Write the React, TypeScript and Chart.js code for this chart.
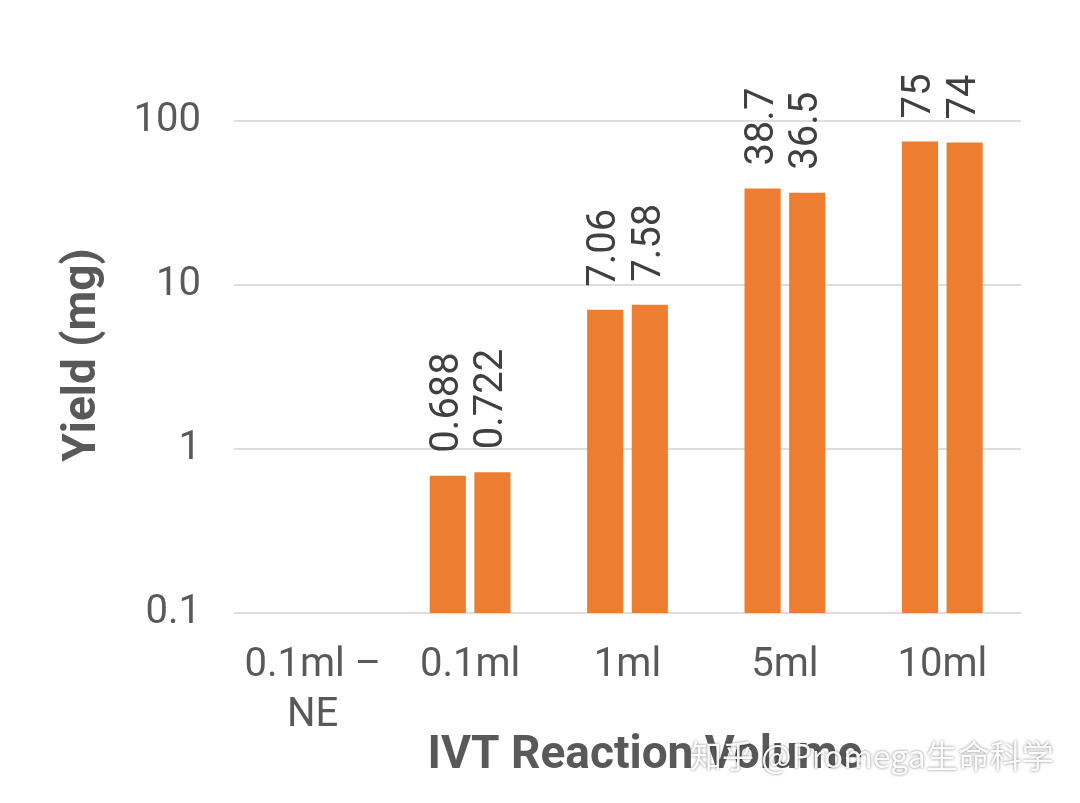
import React, { useEffect, useRef } from "react";
import { Chart, registerables } from "chart.js";

Chart.register(...registerables);

const categories: (string | string[])[] = [["0.1ml –", "NE"], "0.1ml", "1ml", "5ml", "10ml"];
const seriesA: (number | null)[] = [null, 0.688, 7.06, 38.7, 75];
const seriesB: (number | null)[] = [null, 0.722, 7.58, 36.5, 74];
const yTicks = [0.1, 1, 10, 100];
const yTitle = "Yield (mg)";
const xTitle = "IVT Reaction Volume";
const watermark = "知乎 @Promega生命科学";

const BAR_COLOR = "#ED7D31";
const TEXT_COLOR = "#595959";

const valueLabels = {
  id: "valueLabels",
  afterDatasetsDraw(chart: any) {
    const ctx = chart.ctx;
    chart.data.datasets.forEach((ds: any, di: number) => {
      const meta = chart.getDatasetMeta(di);
      meta.data.forEach((bar: any, i: number) => {
        const v = ds.data[i];
        if (v == null) return;
        ctx.save();
        ctx.translate(bar.x, bar.y - 23);
        ctx.rotate(-Math.PI / 2);
        ctx.font = "40px Roboto";
        ctx.fillStyle = "#404040";
        ctx.textAlign = "left";
        ctx.textBaseline = "middle";
        ctx.fillText(String(v), 0, 0);
        ctx.restore();
      });
    });
  },
};

const axisTitles = {
  id: "axisTitles",
  afterDraw(chart: any) {
    const ctx = chart.ctx;
    ctx.save();
    ctx.font = "bold 46px Roboto";
    ctx.fillStyle = TEXT_COLOR;
    ctx.textAlign = "center";
    ctx.textBaseline = "middle";
    ctx.fillText(xTitle, 645, 756);
    ctx.translate(83, 355);
    ctx.rotate(-Math.PI / 2);
    ctx.fillText(yTitle, 0, 0);
    ctx.restore();
  },
};

const watermarkPlugin = {
  id: "watermark",
  afterDraw(chart: any) {
    const ctx = chart.ctx;
    ctx.save();
    ctx.font = "32px 'Noto Sans CJK SC'";
    ctx.textAlign = "left";
    ctx.textBaseline = "middle";
    ctx.shadowColor = "rgba(0,0,0,0.55)";
    ctx.shadowBlur = 3;
    ctx.fillStyle = "rgba(255,255,255,0.95)";
    ctx.fillText(watermark, 690, 756);
    ctx.restore();
  },
};

export default function App() {
  const ref = useRef<HTMLCanvasElement | null>(null);

  useEffect(() => {
    if (!ref.current) return;
    const chart = new Chart(ref.current, {
      type: "bar",
      data: {
        labels: categories,
        datasets: [
          {
            data: seriesA,
            backgroundColor: BAR_COLOR,
            barPercentage: 0.81,
            categoryPercentage: 0.567,
          },
          {
            data: seriesB,
            backgroundColor: BAR_COLOR,
            barPercentage: 0.81,
            categoryPercentage: 0.567,
          },
        ],
      },
      options: {
        animation: false,
        responsive: true,
        maintainAspectRatio: false,
        layout: { padding: { left: 0, right: 59, top: 121, bottom: 0 } },
        plugins: {
          legend: { display: false },
          tooltip: { enabled: false },
        },
        scales: {
          x: {
            grid: { display: false, drawTicks: false },
            border: { display: false },
            ticks: {
              color: TEXT_COLOR,
              font: { family: "Roboto", size: 40, lineHeight: 1.25 },
              padding: 28,
              maxRotation: 0,
              autoSkip: false,
            },
            afterFit(scale: any) {
              scale.height = 190;
            },
          },
          y: {
            type: "logarithmic",
            min: 0.1,
            max: 100,
            grid: { color: "#DDDDDD", lineWidth: 2, drawTicks: false },
            border: { display: false },
            afterBuildTicks(scale: any) {
              scale.ticks = yTicks.map((v) => ({ value: v }));
            },
            ticks: {
              color: TEXT_COLOR,
              font: { family: "Roboto", size: 40 },
              padding: 33,
              callback: (v: any) => String(v),
            },
            afterFit(scale: any) {
              scale.width = 234;
            },
          },
        },
      },
      plugins: [valueLabels, axisTitles, watermarkPlugin],
    } as any);
    return () => chart.destroy();
  }, []);

  return (
    <div style={{ position: "absolute", left: 0, top: 0, width: 1080, height: 803, background: "#fff" }}>
      <canvas ref={ref} />
    </div>
  );
}
